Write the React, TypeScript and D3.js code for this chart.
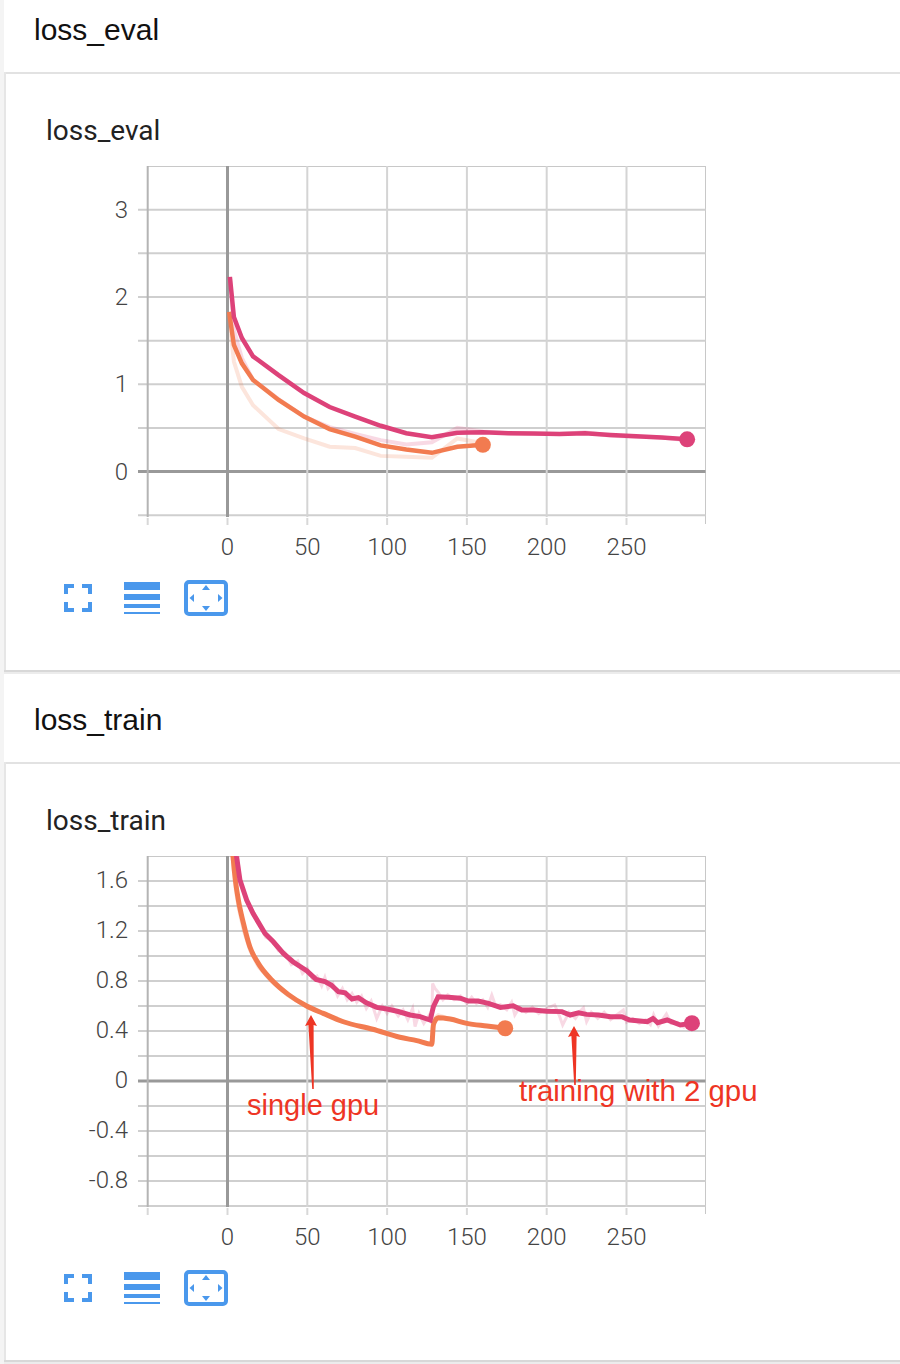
import React, {useEffect, useRef} from "react";
import * as d3 from "d3";

const PINK = "#dd4279";
const ORANGE = "#f27b50";
const RED = "#ee3524";

// loss_eval
const evalPinkSteps = [1.5, 4, 9, 16, 32, 48, 64, 80, 96, 112, 128, 144, 160, 176, 192, 208, 224, 240, 256, 272, 288];
const evalPinkSmooth = [2.23, 1.77, 1.53, 1.32, 1.105, 0.9, 0.74, 0.63, 0.525, 0.44, 0.395, 0.445, 0.45, 0.44, 0.435, 0.43, 0.44, 0.42, 0.405, 0.39, 0.37];
const evalPinkRaw = [2.23, 1.62, 1.3, 1.05, 0.83, 0.63, 0.51, 0.43, 0.36, 0.31, 0.335, 0.5, 0.46, 0.44, 0.43, 0.43, 0.45, 0.41, 0.4, 0.39, 0.36];
const evalOrangeSteps = [1, 4, 9, 16, 32, 48, 64, 80, 96, 112, 128, 144, 160];
const evalOrangeSmooth = [1.83, 1.45, 1.24, 1.05, 0.82, 0.63, 0.487, 0.4, 0.3, 0.254, 0.215, 0.285, 0.307];
const evalOrangeRaw = [1.78, 1.26, 0.97, 0.76, 0.487, 0.38, 0.285, 0.27, 0.18, 0.17, 0.158, 0.38, 0.325];

// loss_train
const trainPinkSteps = [
	4, 5.7, 7.8, 12, 16, 23.5, 28.7, 35, 41, 49.6,
	55.5, 61, 65, 69.5, 73.7, 78, 82, 87, 93.5, 100,
	107, 114.4, 120.7, 127, 129, 132, 138.4, 145.8, 151, 157,
	163.5, 171, 179, 184.4, 191.7, 200, 209.5, 214.7, 220, 225,
	232.5, 240, 247, 252, 263, 266.6, 269.5, 275.4, 283.7, 291,
];
const trainPinkSmooth = [
	2.05, 1.794, 1.608, 1.448, 1.341, 1.18, 1.114, 1.02, 0.954, 0.882,
	0.813, 0.795, 0.768, 0.714, 0.706, 0.656, 0.667, 0.626, 0.589, 0.576,
	0.556, 0.528, 0.515, 0.488, 0.594, 0.674, 0.67, 0.662, 0.64, 0.64,
	0.621, 0.589, 0.602, 0.568, 0.568, 0.558, 0.555, 0.528, 0.546, 0.533,
	0.528, 0.515, 0.515, 0.488, 0.475, 0.5, 0.467, 0.488, 0.448, 0.463,
];
const trainPinkRawSteps = [
	5, 8, 12, 16, 20, 24, 28, 32, 36, 40,
	44, 47, 50, 53, 56, 59, 61, 63, 66, 69,
	72, 75, 78, 81, 84, 87, 90, 93.5, 97, 100,
	103, 107, 110, 113, 116, 117.5, 120, 123, 126, 128,
	128.5, 130, 132, 135, 138, 142, 146, 150, 153, 156,
	160, 163, 165.6, 168, 171, 175, 178, 180, 183, 187,
	191, 195, 200, 205, 208, 210, 214, 218, 221, 223,
	225, 228, 232, 236, 240, 244, 248, 250, 254, 258,
	262, 265, 267, 270, 273, 275, 278, 282, 286, 290,
];
const trainPinkRaw = [
	1.95, 1.6, 1.44, 1.33, 1.26, 1.15, 1.13, 1.04, 1.03, 0.93,
	0.96, 0.86, 0.9, 0.82, 0.84, 0.76, 0.83, 0.74, 0.78, 0.68,
	0.74, 0.65, 0.7, 0.63, 0.68, 0.58, 0.64, 0.5, 0.6, 0.54,
	0.6, 0.52, 0.57, 0.49, 0.58, 0.435, 0.54, 0.46, 0.52, 0.46,
	0.78, 0.74, 0.71, 0.65, 0.69, 0.65, 0.68, 0.62, 0.67, 0.62,
	0.65, 0.59, 0.688, 0.6, 0.61, 0.57, 0.63, 0.528, 0.59, 0.55,
	0.59, 0.54, 0.58, 0.608, 0.52, 0.448, 0.55, 0.5, 0.56, 0.584,
	0.474, 0.55, 0.5, 0.55, 0.49, 0.53, 0.568, 0.47, 0.5, 0.46,
	0.49, 0.45, 0.53, 0.44, 0.5, 0.536, 0.46, 0.47, 0.43, 0.46,
];
const trainOrangeSteps = [2, 3.5, 5, 6.8, 10, 14, 19.3, 27.7, 38, 49.6, 60, 72.6, 91, 108, 118.6, 128, 129, 130, 132, 139.5, 150, 162.5, 174];
const trainOrangeSmooth = [2.05, 1.79, 1.6, 1.448, 1.261, 1.074, 0.941, 0.808, 0.693, 0.6, 0.541, 0.474, 0.414, 0.35, 0.323, 0.294, 0.448, 0.48, 0.507, 0.496, 0.461, 0.44, 0.422];
const trainOrangeRaw = [1.95, 1.7, 1.52, 1.38, 1.2, 1.04, 0.91, 0.79, 0.68, 0.59, 0.535, 0.47, 0.41, 0.345, 0.32, 0.29, 0.47, 0.51, 0.53, 0.5, 0.46, 0.44, 0.42];

const xTicks = [0, 50, 100, 150, 200, 250];
const xGrid = [-50, 0, 50, 100, 150, 200, 250];
const evalTicks = [3, 2, 1, 0];
const evalGrid = [3, 2.5, 2, 1.5, 1, 0.5, 0, -0.5];
const trainTicks = [1.6, 1.2, 0.8, 0.4, 0, -0.4, -0.8];
const trainGrid = [1.6, 1.4, 1.2, 1, 0.8, 0.6, 0.4, 0.2, 0, -0.2, -0.4, -0.6, -0.8, -1];

const FONT = "Roboto, sans-serif";
const HELV = "'Liberation Sans', sans-serif";

function drawPanel(svg: any, opt: any) {
	const {top, bottom, yDomain, yTicks, yGrid, series, fmt, lineWidth, rawWidth, curve, labelDy} = opt;
	const x = d3.scaleLinear().domain([0, 250]).range([227.5, 626.5]);
	const y = d3.scaleLinear().domain(yDomain).range([bottom, top]);
	const g = svg.append("g");
	const xEnd = 705.5;
	const xStart = x(-50);

	// outer frame
	g.append("line").attr("x1", xStart).attr("x2", xEnd).attr("y1", top + 0.5).attr("y2", top + 0.5).attr("stroke", "#c8c8c8");
	g.append("line").attr("x1", xEnd).attr("x2", xEnd).attr("y1", top).attr("y2", bottom + 7).attr("stroke", "#c8c8c8");

	// grid
	yGrid.forEach((v: number) => {
		g.append("line")
			.attr("x1", 138).attr("x2", xEnd)
			.attr("y1", y(v)).attr("y2", y(v))
			.attr("stroke", v === 0 ? "#999" : "#cfcfcf")
			.attr("stroke-width", v === 0 ? 3 : 2);
	});
	xGrid.forEach((v) => {
		g.append("line")
			.attr("x1", x(v)).attr("x2", x(v))
			.attr("y1", top).attr("y2", bottom)
			.attr("stroke", v === 0 ? "#999" : v === -50 ? "#b4b4b4" : "#d4d4d4")
			.attr("stroke-width", v === 0 ? 3 : 2);
		g.append("line")
			.attr("x1", x(v)).attr("x2", x(v))
			.attr("y1", bottom + 1).attr("y2", bottom + 8)
			.attr("stroke", "#d8d8d8")
			.attr("stroke-width", 2);
	});

	// labels
	g.selectAll(".xl").data(xTicks).enter().append("text")
		.attr("x", (d: number) => x(d)).attr("y", bottom + 38)
		.attr("text-anchor", "middle")
		.style("font", `300 24px ${FONT}`).style("fill", "#444")
		.text((d: number) => d);
	g.selectAll(".yl").data(yTicks).enter().append("text")
		.attr("x", 128).attr("y", (d: number) => y(d) + labelDy)
		.attr("text-anchor", "end")
		.style("font", `300 24px ${FONT}`).style("fill", "#444")
		.text((d: number) => fmt(d));

	// clip so the lines stop at the top edge
	const clipId = `clip-${top}`;
	svg.append("clipPath").attr("id", clipId).append("rect").attr("x", xStart).attr("y", top).attr("width", xEnd - xStart).attr("height", bottom - top);
	const lines = svg.append("g").attr("clip-path", `url(#${clipId})`);

	series.forEach((s: any) => {
		const rawSteps = s.rawSteps || s.steps;
		const path = d3.line<number>().x((_d, i) => x(rawSteps[i])).y((d) => y(d));
		lines.append("path").attr("d", path(s.raw)).attr("fill", "none").attr("stroke", s.color).attr("stroke-opacity", 0.2).attr("stroke-width", rawWidth);
	});
	series.forEach((s: any) => {
		const path = d3.line<number>().x((_d, i) => x(s.steps[i])).y((d) => y(d)).curve(s.curve || curve);
		lines.append("path").attr("d", path(s.smooth)).attr("fill", "none").attr("stroke", s.color).attr("stroke-width", lineWidth);
		const n = s.steps.length - 1;
		svg.append("circle").attr("cx", x(s.steps[n])).attr("cy", y(s.smooth[n])).attr("r", 8).attr("fill", s.color);
	});
}

function drawIcons(svg: any, oy: number) {
	const blue = "#4a98ec";
	const g = svg.append("g").attr("transform", `translate(0,${oy})`);
	const corners = "M66 594V586H74M82 586H90V594M90 602V610H82M74 610H66V602";
	g.append("path").attr("d", corners).attr("fill", "none").attr("stroke", blue).attr("stroke-width", 4);
	[[582, 8], [594, 6], [604, 4], [612, 2]].forEach(([yy, h]) => {
		g.append("rect").attr("x", 124).attr("y", yy).attr("width", 36).attr("height", h).attr("fill", blue);
	});
	g.append("rect").attr("x", 186).attr("y", 582).attr("width", 40).attr("height", 32).attr("rx", 3).attr("fill", "none").attr("stroke", blue).attr("stroke-width", 4);
	g.append("path").attr("d", "M206 585L210 590H202ZM206 611L210 606H202ZM189.5 598L194 594V602ZM222.5 598L218 594V602Z").attr("fill", blue);
}

function drawArrow(svg: any, tipX: number, tipY: number, baseX: number, baseY: number) {
	svg.append("path")
		.attr("d", `M${tipX} ${tipY}L${tipX + 6} ${tipY + 11}L${tipX + 2.6} ${tipY + 10}L${baseX + 0.8} ${baseY}L${baseX - 0.8} ${baseY}L${tipX - 2.6} ${tipY + 10}L${tipX - 6} ${tipY + 11}Z`)
		.attr("fill", RED);
}

const App: React.FC = () => {
	const svgRef = useRef<SVGSVGElement>(null);

	useEffect(() => {
		const svg = d3.select(svgRef.current);
		svg.selectAll("*").remove();

		// page background strips and card borders
		svg.append("rect").attr("width", 900).attr("height", 1364).attr("fill", "#fff");
		svg.append("rect").attr("x", 0).attr("width", 4).attr("height", 1364).attr("fill", "#f4f4f4");
		[[72, 670], [762, 1360]].forEach(([a, b]) => {
			svg.append("rect").attr("x", 4).attr("y", a).attr("width", 896).attr("height", 2).attr("fill", "#e2e2e2");
			svg.append("rect").attr("x", 4).attr("y", a).attr("width", 2).attr("height", b - a).attr("fill", "#e6e6e6");
			svg.append("rect").attr("x", 4).attr("y", b).attr("width", 896).attr("height", 2).attr("fill", "#d8d8d8");
			svg.append("rect").attr("x", 4).attr("y", b + 2).attr("width", 896).attr("height", 2).attr("fill", "#ececec");
		});

		const head = (t: string, yy: number) => svg.append("text").attr("x", 34).attr("y", yy).style("font", `400 30px ${HELV}`).style("fill", "#111").text(t);
		const sub = (t: string, yy: number) => svg.append("text").attr("x", 46).attr("y", yy).style("font", `400 28px ${FONT}`).style("fill", "#222").text(t);
		head("loss_eval", 40);
		sub("loss_eval", 140);
		head("loss_train", 730);
		sub("loss_train", 830);

		drawPanel(svg, {
			top: 166, bottom: 517,
			yDomain: [-0.52, 3.5],
			yTicks: evalTicks, yGrid: evalGrid,
			fmt: (d: number) => String(d),
			lineWidth: 4.5, rawWidth: 4, curve: d3.curveLinear, labelDy: 8,
			series: [
				{steps: evalOrangeSteps, smooth: evalOrangeSmooth, raw: evalOrangeRaw, color: ORANGE},
				{steps: evalPinkSteps, smooth: evalPinkSmooth, raw: evalPinkRaw, color: PINK},
			],
		});
		drawPanel(svg, {
			top: 856, bottom: 1207,
			yDomain: [-1.008, 1.8],
			yTicks: trainTicks, yGrid: trainGrid,
			fmt: (d: number) => (d === 0 ? "0" : d3.format(".1f")(d).replace("\u2212", "-")),
			lineWidth: 5, rawWidth: 3, curve: d3.curveLinear, labelDy: 7,
			series: [
				{steps: trainOrangeSteps, smooth: trainOrangeSmooth, raw: trainOrangeRaw, color: ORANGE, curve: d3.curveMonotoneX},
				{steps: trainPinkSteps, smooth: trainPinkSmooth, raw: trainPinkRaw, rawSteps: trainPinkRawSteps, color: PINK},
			],
		});

		drawIcons(svg, 0);
		drawIcons(svg, 690);

		drawArrow(svg, 311, 1015, 313, 1089);
		drawArrow(svg, 574, 1026, 575, 1085);
		svg.append("text").attr("x", 247).attr("y", 1114.5).style("font", `400 29px ${HELV}`).style("fill", RED).text("single gpu");
		svg.append("text").attr("x", 519).attr("y", 1100.5).style("font", `400 29.4px ${HELV}`).style("fill", RED).text("training with 2 gpu");
	}, []);

	return <svg ref={svgRef} width={900} height={1364} style={{position: "absolute", left: 0, top: 0}} />;
};

export default App;
